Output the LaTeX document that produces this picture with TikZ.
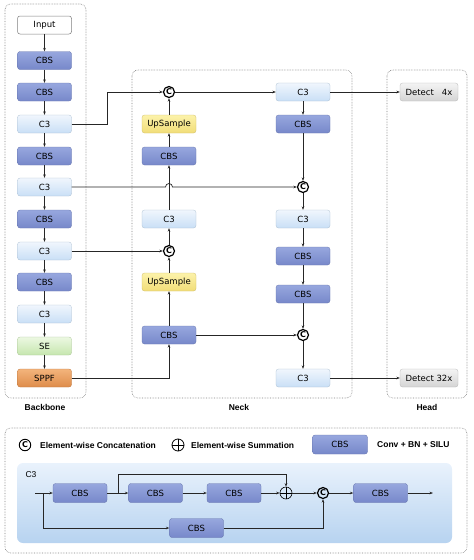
\documentclass[tikz,border=0pt]{standalone}
\usepackage{fontspec}
\setmainfont{DejaVu Sans}
\newfontfamily\arialfont{Liberation Sans}
\usetikzlibrary{arrows.meta,calc}
\definecolor{cbsT}{HTML}{97A7DE}
\definecolor{cbsB}{HTML}{7788CA}
\definecolor{cthT}{HTML}{F0F6FD}
\definecolor{cthB}{HTML}{C9DFF6}
\definecolor{upT}{HTML}{FCF2AA}
\definecolor{upB}{HTML}{F1DD78}
\definecolor{seT}{HTML}{ECF8E2}
\definecolor{seB}{HTML}{C6E6AE}
\definecolor{spT}{HTML}{F3B47C}
\definecolor{spB}{HTML}{DE8C4A}
\definecolor{dtT}{HTML}{F4F4F4}
\definecolor{dtB}{HTML}{D4D4D4}
\definecolor{pnT}{HTML}{E9F2FC}
\definecolor{pnB}{HTML}{B7D3F0}
\begin{document}
\begin{tikzpicture}[x=1pt,y=-1pt,
  blk/.style={rounded corners=2.5pt, minimum width=54pt, minimum height=18pt, inner sep=0pt, font=\fontsize{8.5}{10}\selectfont},
  cbs/.style={blk, top color=cbsT, bottom color=cbsB, draw=cbsB!85!black, line width=0.3pt},
  cth/.style={blk, top color=cthT, bottom color=cthB, draw=cthB!85!black, line width=0.3pt},
  inbox/.style={blk, fill=white, draw=gray, line width=0.5pt},
  upbox/.style={blk, top color=upT, bottom color=upB, draw=upB!85!black, line width=0.3pt},
  sebox/.style={blk, top color=seT, bottom color=seB, draw=seB!85!black, line width=0.3pt},
  spbox/.style={blk, top color=spT, bottom color=spB, draw=spB!85!black, line width=0.3pt},
  dtbox/.style={blk, minimum width=58pt, top color=dtT, bottom color=dtB, draw=dtB!85!black, line width=0.3pt},
  cat/.style={circle, draw, line width=1.2pt, minimum size=11pt, inner sep=0pt, font=\fontsize{8}{8}\selectfont\bfseries},
  sumn/.style={circle, draw, line width=0.6pt, minimum size=12pt, inner sep=0pt,
    path picture={\draw[line width=0.6pt] (path picture bounding box.north) -- (path picture bounding box.south)
      (path picture bounding box.west) -- (path picture bounding box.east);}},
  panel/.style={draw=gray, densely dotted, rounded corners=6pt, line width=0.6pt},
  ptitle/.style={font=\arialfont\bfseries\fontsize{8.5}{10}\selectfont},
  legtxt/.style={font=\arialfont\bfseries\fontsize{8.5}{10}\selectfont, anchor=west, inner sep=0pt},
  arr/.style={-{Stealth[length=3.5pt,width=2.6pt]}, line width=0.7pt, draw=black!85},
  ln/.style={line width=0.7pt, draw=black!85}
]
\useasboundingbox (0,0) rectangle (474,560);

% panels
\draw[panel] (5,4) rectangle (86,398);
\draw[panel] (132,70) rectangle (352,398);
\draw[panel] (387,70) rectangle (467,398);
\node[ptitle] (tb) at (45,407) {Backbone};
\node[ptitle] (tn) at (239,407) {Neck};
\node[ptitle] (th) at (427,407) {Head};

% backbone
\node[inbox] (in) at (44.5,25) {Input};
\node[cbs] (b1) at (44.5,60.5) {CBS};
\node[cbs] (b2) at (44.5,92) {CBS};
\node[cth] (b3) at (44.5,124) {C3};
\node[cbs] (b4) at (44.5,156) {CBS};
\node[cth] (b5) at (44.5,187) {C3};
\node[cbs] (b6) at (44.5,219) {CBS};
\node[cth] (b7) at (44.5,251) {C3};
\node[cbs] (b8) at (44.5,282) {CBS};
\node[cth] (b9) at (44.5,314) {C3};
\node[sebox] (b10) at (44.5,346) {SE};
\node[spbox] (b11) at (44.5,378) {SPPF};
\foreach \a/\b in {in/b1,b1/b2,b2/b3,b3/b4,b4/b5,b5/b6,b6/b7,b7/b8,b8/b9,b9/b10,b10/b11}
  \draw[arr] (\a.south) -- (\b.north);

% neck left
\node[cat] (ca) at (169,92) {C};
\node[upbox] (nl1) at (169,124) {UpSample};
\node[cbs] (nl2) at (169,156) {CBS};
\node[cth] (nl3) at (169,219) {C3};
\node[cat] (cb) at (169,251) {C};
\node[upbox] (nl4) at (169,282) {UpSample};
\node[cbs] (nl5) at (169,335) {CBS};
% neck right
\node[cth] (nr1) at (303,92) {C3};
\node[cbs] (nr2) at (303,124) {CBS};
\node[cat] (cc) at (303,187) {C};
\node[cth] (nr3) at (303,219) {C3};
\node[cbs] (nr4) at (303,256) {CBS};
\node[cbs] (nr5) at (303,294) {CBS};
\node[cat] (cd) at (303,335) {C};
\node[cth] (nr6) at (303,378) {C3};
% head
\node[dtbox] (h1) at (429,92) {Detect\hspace{0.95em}4x};
\node[dtbox] (h2) at (429,378) {Detect 32x};

\foreach \a/\b in {nl5/nl4,nl4/cb,cb/nl3,nl3/nl2,nl2/nl1,nl1/ca}
  \draw[arr] (\a.north) -- (\b.south);
\foreach \a/\b in {nr1/nr2,nr2/cc,cc/nr3,nr3/nr4,nr4/nr5,nr5/cd,cd/nr6}
  \draw[arr] (\a.south) -- (\b.north);
\draw[arr] (ca.east) -- (nr1.west);
\draw[arr] (nl5.east) -- (cd.west);
\draw[arr] (nr1.east) -- (h1.west);
\draw[arr] (nr6.east) -- (h2.west);

% backbone to neck
\draw[arr] (b3.east) -- ++(36,0) |- (ca.west);
\draw[arr] (b5.east) -- (165.5,187) arc[start angle=180,end angle=360,radius=3.5] -- (cc.west);
\draw[arr] (b7.east) -- (cb.west);
\draw[arr] (b11.east) -| (nl5.south);

% legend panel
\draw[panel] (5,428) rectangle (467,553);
\node[cat, minimum size=11.5pt, line width=0.9pt, font=\fontsize{8}{8}\selectfont\bfseries] (lc) at (25,445) {C};
\node[legtxt] (lct) at (40,445) {Element-wise Concatenation};
\node[sumn, line width=0.8pt, minimum size=12pt] (ls) at (178,445) {};
\node[legtxt] (lst) at (191,445) {Element-wise Summation};
\node[cbs, minimum width=55pt, minimum height=19pt] (lcbs) at (340,444.5) {CBS};
\node[legtxt] (lcbst) at (377,445) {Conv + BN + SILU};

% C3 module
\draw[rounded corners=6pt, top color=pnT, bottom color=pnB, draw=none] (17,463) rectangle (452,543);
\node[font=\arialfont\fontsize{8.5}{10}\selectfont] (c3l) at (31,475) {C3};
\coordinate (kin) at (35,493);
\coordinate (kbr) at (43,493);
\coordinate (ksk) at (118,493);
\coordinate (kout) at (433,493);
\node[cbs, minimum height=19pt] (k1) at (80,493) {CBS};
\node[cbs, minimum height=19pt] (k2) at (155.5,493) {CBS};
\node[cbs, minimum height=19pt] (k3) at (234,493) {CBS};
\node[sumn] (ks) at (286,493) {};
\node[cat] (kc) at (323,493) {C};
\node[cbs, minimum height=19pt] (k4) at (380.5,493) {CBS};
\node[cbs, minimum height=19pt] (kb) at (196.5,528) {CBS};
\draw[arr] (kin) -- (k1.west);
\draw[arr] (k1.east) -- (k2.west);
\draw[arr] (k2.east) -- (k3.west);
\draw[arr] (k3.east) -- (ks.west);
\draw[arr] (ks.east) -- (kc.west);
\draw[arr] (kc.east) -- (k4.west);
\draw[arr] (k4.east) -- (kout);
\draw[arr] (kbr) |- (kb.west);
\draw[arr] (kb.east) -| (kc.south);
\draw[arr] (ksk) -- ++(0,-19) -| (ks.north);
\end{tikzpicture}
\end{document}
